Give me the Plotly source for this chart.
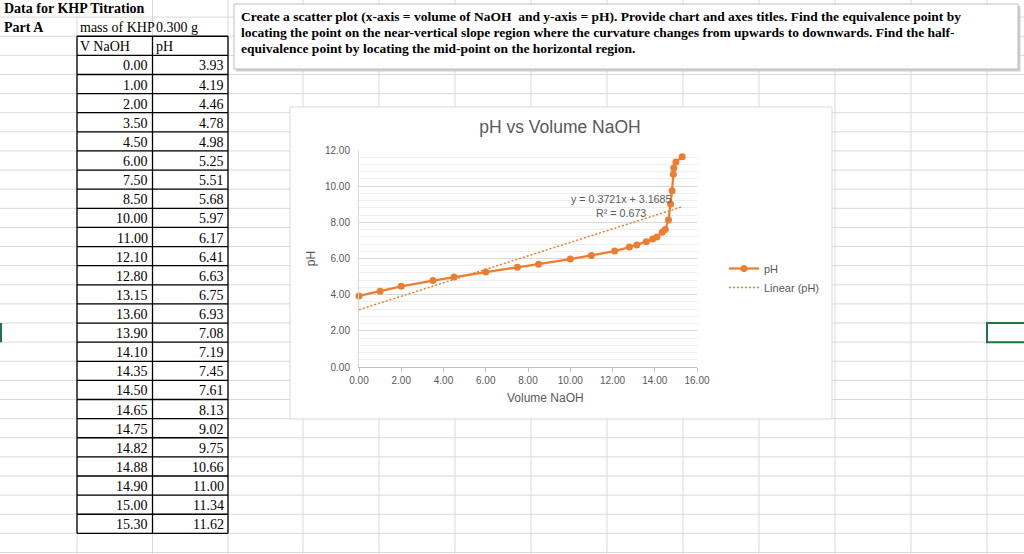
import plotly.graph_objects as go

# ---------------- data ----------------
volume_naoh = [0.00, 1.00, 2.00, 3.50, 4.50, 6.00, 7.50, 8.50, 10.00, 11.00, 12.10, 12.80,
               13.15, 13.60, 13.90, 14.10, 14.35, 14.50, 14.65, 14.75, 14.82, 14.88,
               14.90, 15.00, 15.30]
ph_values = [3.93, 4.19, 4.46, 4.78, 4.98, 5.25, 5.51, 5.68, 5.97, 6.17, 6.41, 6.63,
             6.75, 6.93, 7.08, 7.19, 7.45, 7.61, 8.13, 9.02, 9.75, 10.66, 11.00, 11.34, 11.62]
trend_slope = 0.3721
trend_intercept = 3.1685
trend_r2 = 0.673
x_ticks = [0, 2, 4, 6, 8, 10, 12, 14, 16]
y_ticks = [0, 2, 4, 6, 8, 10, 12]

sheet_title = "Data for KHP Titration"
part_label = "Part A"
mass_label = "mass of KHP"
mass_value = "0.300 g"
col_headers = ["V NaOH", "pH"]
instruction_lines = [
    "Create a scatter plot (x-axis = volume of NaOH  and y-axis = pH). Provide chart and axes titles. "
    "Find the equivalence point by",
    "locating the point on the near-vertical slope region where the curvature changes from upwards "
    "to downwards. Find the half-",
    "equivalence point by locating the mid-point on the horizontal region.",
]

# ---------------- geometry helpers ----------------
W, H = 1024, 554
def px(x):
    return x / W
def py(y):
    return 1 - y / H

ROW0 = -2.0
ROWH = 19.12
def row_line(k):
    return ROW0 + ROWH * k
def row_center(k):
    return ROW0 + ROWH * (k + 0.5)

ORANGE = "#ED7D31"
GRAY_TXT = "#595959"
SANS = "Liberation Sans, Arial, sans-serif"
SERIF = "Liberation Serif, Times New Roman, serif"

fig = go.Figure()
fig.add_trace(go.Scatter(
    x=volume_naoh, y=ph_values, mode="lines+markers", name="pH", cliponaxis=False,
    line=dict(color=ORANGE, width=2.25), marker=dict(size=7, color=ORANGE)))
trend_x = [min(volume_naoh), max(volume_naoh)]
trend_y = [trend_slope * v + trend_intercept for v in trend_x]
fig.add_trace(go.Scatter(
    x=trend_x, y=trend_y, mode="lines", name="Linear (pH)",
    line=dict(color=ORANGE, width=1.5, dash="2px,2px")))

shapes = []
GRID = "#d9d9d9"
col_lines = [77, 152.5, 228, 303, 379, 455, 531, 607, 683, 759, 835, 911, 987]
for x in col_lines:
    shapes.append(dict(type="line", xref="paper", yref="paper", x0=px(x), x1=px(x),
                       y0=py(0), y1=py(H), line=dict(color=GRID, width=1), layer="below"))
for k in range(1, 30):
    y = row_line(k)
    shapes.append(dict(type="line", xref="paper", yref="paper", x0=0, x1=1,
                       y0=py(y), y1=py(y), line=dict(color=GRID, width=1), layer="below"))
# title text overflows column A in row 0
shapes.append(dict(type="rect", xref="paper", yref="paper", x0=px(70), x1=px(84),
                   y0=py(row_line(1) - 1), y1=py(0), fillcolor="white", line=dict(width=0), layer="below"))
# table borders
top_k, bot_k = 2, 28
for k in range(top_k, bot_k + 1):
    y = row_line(k)
    shapes.append(dict(type="line", xref="paper", yref="paper", x0=px(77), x1=px(228),
                       y0=py(y), y1=py(y), line=dict(color="black", width=1.3), layer="below"))
for x in [77, 152.5, 228]:
    shapes.append(dict(type="line", xref="paper", yref="paper", x0=px(x), x1=px(x),
                       y0=py(row_line(top_k)), y1=py(row_line(bot_k)),
                       line=dict(color="black", width=1.3), layer="below"))
# selected cell
shapes.append(dict(type="rect", xref="paper", yref="paper", x0=px(987), x1=px(1030),
                   y0=py(row_line(18)), y1=py(row_line(17)),
                   line=dict(color="#217346", width=2), fillcolor="rgba(0,0,0,0)", layer="below"))
shapes.append(dict(type="line", xref="paper", yref="paper", x0=px(1), x1=px(1),
                   y0=py(row_line(18)), y1=py(row_line(17)),
                   line=dict(color="#217346", width=2), layer="below"))
# text box (shadow + box)
shapes.append(dict(type="rect", xref="paper", yref="paper", x0=px(236), x1=px(1020.5),
                   y0=py(71.5), y1=py(6), fillcolor="#cfcfcf", line=dict(width=0), layer="below"))
shapes.append(dict(type="rect", xref="paper", yref="paper", x0=px(234), x1=px(1018),
                   y0=py(69), y1=py(4), fillcolor="white", line=dict(color="#bdbdbd", width=1), layer="below"))
# chart area
shapes.append(dict(type="rect", xref="paper", yref="paper", x0=px(290), x1=px(832),
                   y0=py(419), y1=py(107), fillcolor="white", line=dict(color="#d9d9d9", width=1), layer="below"))

annotations = []
def txt(text, x, y, xanchor="left", size=14, bold=False, family=SERIF, color="black"):
    annotations.append(dict(text=f"<b>{text}</b>" if bold else text, x=px(x), y=py(y),
                            xref="paper", yref="paper", xanchor=xanchor, yanchor="middle",
                            showarrow=False, font=dict(family=family, size=size, color=color)))

txt(sheet_title, 2, row_center(0) + 1, bold=True, size=14)
txt(part_label, 2, row_center(1) + 1, bold=True, size=14)
txt(mass_label, 78, row_center(1) + 1, size=14)
txt(mass_value, 154, row_center(1) + 1, size=14)
txt(col_headers[0], 78, row_center(2) + 1, size=14)
txt(col_headers[1], 154, row_center(2) + 1, size=14)
for i, (v, p) in enumerate(zip(volume_naoh, ph_values)):
    txt(f"{v:.2f}", 150, row_center(i + 3) + 1, xanchor="right", size=14)
    txt(f"{p:.2f}", 226, row_center(i + 3) + 1, xanchor="right", size=14)

for i, line in enumerate(instruction_lines):
    txt(line, 239, 17 + 15.6 * i, bold=True, size=13.5)

annotations.append(dict(text=f"y = {trend_slope}x + {trend_intercept}<br>R² = {trend_r2}",
                        x=px(621), y=py(206), xref="paper", yref="paper", xanchor="center",
                        yanchor="middle", align="center", showarrow=False,
                        font=dict(family=SANS, size=10.7, color=GRAY_TXT)))
# x-axis title (Excel centres it on the chart area rather than the plot area)
title_font = dict(family=SANS, size=12, color=GRAY_TXT)
annotations.append(dict(text="Volume NaOH", x=px(545), y=py(398), xref="paper", yref="paper",
                        xanchor="center", yanchor="middle", showarrow=False, font=title_font))

axis_font = dict(family=SANS, size=10, color=GRAY_TXT)
fig.update_layout(
    width=W, height=H, margin=dict(l=0, r=0, t=0, b=0),
    paper_bgcolor="white", plot_bgcolor="white",
    title=dict(text="pH vs Volume NaOH", x=px(560), y=py(127), xref="paper", yref="paper",
               xanchor="center", yanchor="middle", font=dict(family=SANS, size=17.5, color=GRAY_TXT)),
    xaxis=dict(domain=[px(359), px(697)], range=[0, 16], tickvals=x_ticks, tickformat=".2f",
               showgrid=False, zeroline=False, showline=True, linecolor="#bfbfbf", linewidth=1,
               ticks="outside", ticklen=4, tickcolor="#bfbfbf", tickfont=axis_font, automargin=False),
    yaxis=dict(domain=[py(367), py(150)], range=[0, 12], tickvals=y_ticks, tickformat=".2f",
               showgrid=True, gridcolor="#d9d9d9", gridwidth=1, zeroline=False,
               showline=True, linecolor="#d9d9d9", ticks="", tickfont=axis_font, automargin=False,
               ticklabelstandoff=6,
               minor=dict(dtick=0.4, tick0=0, showgrid=True, gridcolor="#eeeeee", gridwidth=1),
               title=dict(text="pH", standoff=6, font=title_font)),
    legend=dict(x=px(724), y=py(254), xanchor="left", yanchor="top", bgcolor="rgba(0,0,0,0)",
                font=dict(family=SANS, size=11, color=GRAY_TXT), itemwidth=30),
    shapes=shapes, annotations=annotations,
)

fig.write_html("out.html", config={"displayModeBar": False},
               post_script="document.body.style.margin='0';document.body.style.overflow='hidden';")
